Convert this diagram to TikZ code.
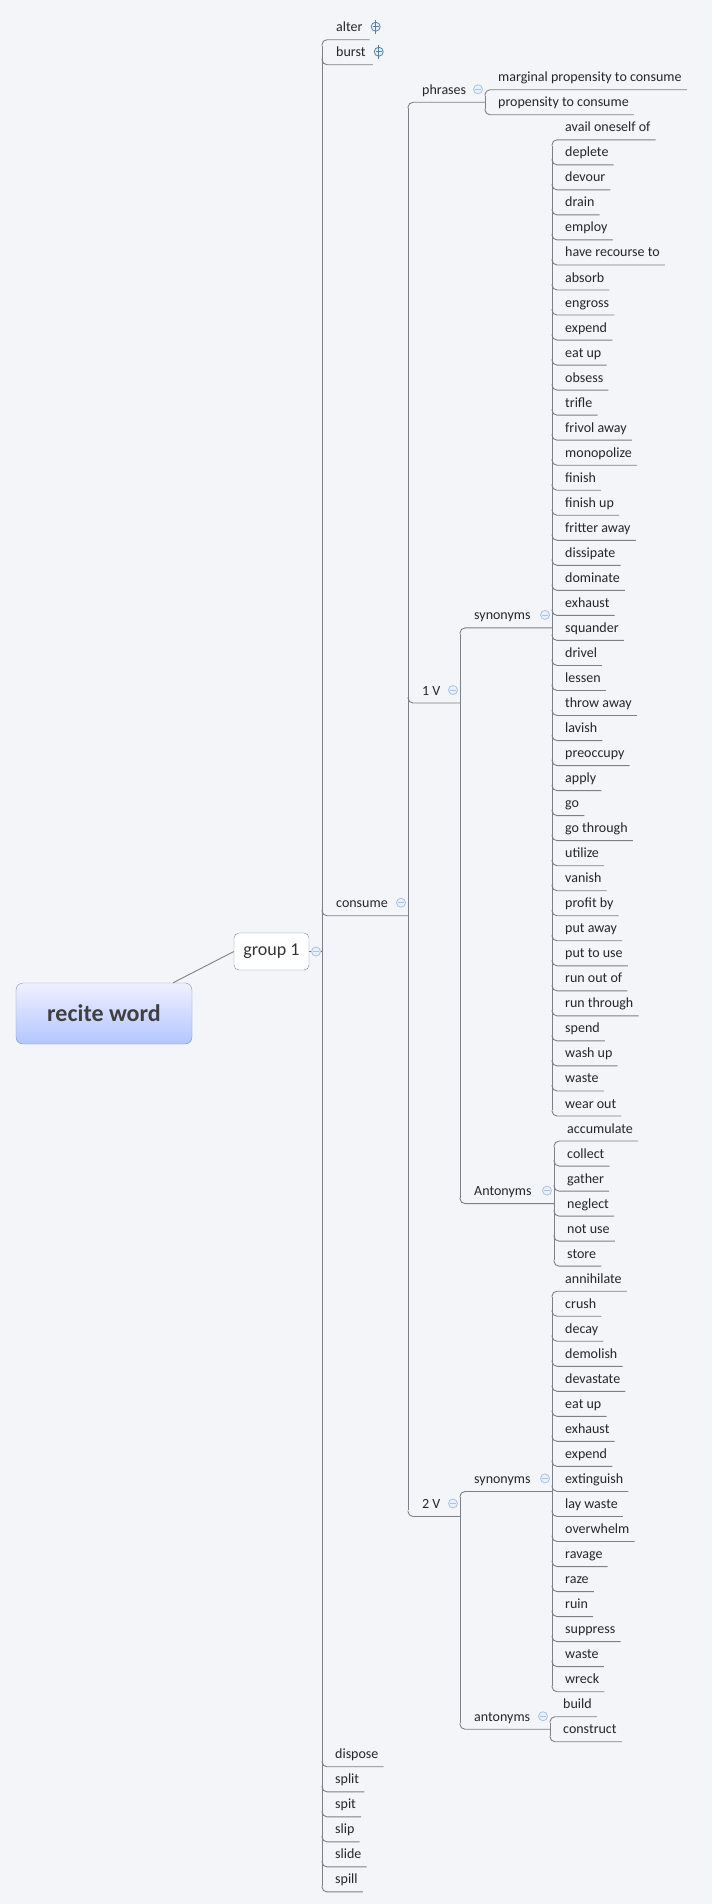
\documentclass[tikz,border=0pt]{standalone}
\usepackage{fontspec}
\setmainfont{Carlito}
\definecolor{bg}{HTML}{F3F5F9}
\definecolor{lnc}{HTML}{7C8088}
\definecolor{icd}{HTML}{A9C4E4}
\definecolor{icf}{HTML}{E9F0F9}
\definecolor{icp}{HTML}{5A7FAE}
\tikzset{
 lbl/.style={anchor=base west,inner sep=0pt,font=\fontsize{14}{16}\selectfont,text=black!85},
 ln/.style={draw=lnc,line width=0.9pt,rounded corners=5pt},
 icon/.style={circle,draw=icd,fill=icf,minimum size=9pt,inner sep=0pt,line width=0.8pt},
 picon/.style={circle,draw=icp,fill=icf,minimum size=9pt,inner sep=0pt,line width=0.8pt},
}
\newcommand\mmleaf[5]{%
 \pgfmathsetmacro\yy{26.7+25.03*(#4)}%
 \pgfmathsetmacro\uu{\yy+13}%
 \pgfmathsetmacro\vv{\uu+(#1)}%
 \node[lbl] (#2) at (#3+13,\yy+5) {#5};
 \coordinate (#2u) at (#3,\uu);
 \draw[ln] (#3,\vv) -- (#2u) -- ([xshift=5pt]#2.east |- #2u);
}
\newcommand\mmpar[6]{%
 \pgfmathsetmacro\yy{26.7+25.03*(#4)}%
 \pgfmathsetmacro\uu{\yy+13}%
 \pgfmathsetmacro\vv{\uu+(#1)}%
 \node[lbl] (#2) at (#3+14,\yy+5) {#5};
 \coordinate (#2u) at (#3,\uu);
 \coordinate (#2c) at (#6,\uu);
 \draw[ln] (#3,\vv) -- (#2u) -- (#2c);
 \node[icon] (#2i) at (#6-7,\yy) {};
 \draw[icd,line width=0.8pt] ([xshift=2pt]#2i.west) -- ([xshift=-2pt]#2i.east);
}
\newcommand\mmplus[5]{%
 \pgfmathsetmacro\yy{26.7+25.03*(#4)}%
 \pgfmathsetmacro\uu{\yy+13}%
 \pgfmathsetmacro\vv{\uu+(#1)}%
 \node[lbl] (#2) at (#3+14,\yy+5) {#5};
 \coordinate (#2u) at (#3,\uu);
 \coordinate (#2m) at (#3,\yy);
 \draw[ln] (#3,\vv) -- (#2u) -- ([xshift=7pt]#2.east |- #2u);
 \node[picon] (#2i) at ([xshift=13pt]#2.east |- #2m) {};
 \draw[icp,line width=0.8pt] ([xshift=2pt]#2i.west) -- ([xshift=-2pt]#2i.east)
   ([yshift=2pt]#2i.north) -- ([yshift=-2pt]#2i.south);
}
\newcommand\mmtrunk[3]{%
 \draw[ln] (#1,{26.7+25.03*(#2)+19}) -- (#1,{26.7+25.03*(#3)+7});
}
\begin{document}
\begin{tikzpicture}[x=1pt,y=-1pt]
\useasboundingbox[fill=bg] (0,0) rectangle (712,1904);
\node[draw=black!45,fill=white,rounded corners=5pt,minimum width=75pt,minimum height=37pt,inner sep=0pt,font=\fontsize{18}{20}\selectfont,text=black!80] (g1) at (271.5,951.5) {group 1};
\node[draw=icp!80,rounded corners=7pt,top color=blue!6!white,bottom color=cyan!25!blue!30!white,minimum width=176pt,minimum height=61pt,inner sep=0pt,font=\fontsize{24}{26}\selectfont\bfseries,text=black!75] (root) at (104,1013.5) {recite word};
\draw[lnc,line width=0.9pt] ([xshift=69pt]root.north) -- (g1.west);
\coordinate (t1) at (322,951.5);
\draw[lnc,line width=0.9pt] (g1.east) -- (t1);
\node[icon] (g1i) at (316,951.5) {};
\draw[icd,line width=0.8pt] ([xshift=2pt]g1i.west) -- ([xshift=-2pt]g1i.east);
\mmtrunk{322}{0}{74}
\mmplus{6}{alter}{322}{0}{alter}
\mmplus{-6}{burst}{322}{1}{burst}
\mmpar{-6}{consume}{322}{35}{consume}{408}
\mmleaf{-6}{dispose}{322}{69}{dispose}
\mmleaf{-6}{split}{322}{70}{split}
\mmleaf{-6}{spit}{322}{71}{spit}
\mmleaf{-6}{slip}{322}{72}{slip}
\mmleaf{-6}{slide}{322}{73}{slide}
\mmleaf{-6}{spill}{322}{74}{spill}
\mmtrunk{408}{2.5}{59}
\mmpar{6}{phrases}{408}{2.5}{phrases}{485}
\mmpar{-6}{v1}{408}{26.5}{1 V}{460}
\mmpar{-6}{v2}{408}{59}{2 V}{460}
\mmtrunk{485}{2}{3}
\mmleaf{6}{ph1}{485}{2}{marginal propensity to consume}
\mmleaf{-6}{ph2}{485}{3}{propensity to consume}
\mmtrunk{460}{23.5}{46.5}
\mmpar{6}{syna}{460}{23.5}{synonyms}{552}
\mmpar{-6}{anta}{460}{46.5}{Antonyms}{554}
\mmtrunk{552}{4}{43}
\foreach \w [count=\i from 0] in {avail oneself of,deplete,devour,drain,employ,have recourse to,absorb,engross,expend,eat up,obsess,trifle,frivol away,monopolize,finish,finish up,fritter away,dissipate,dominate,exhaust,squander,drivel,lessen,throw away,lavish,preoccupy,apply,go,go through,utilize,vanish,profit by,put away,put to use,run out of,run through,spend,wash up,waste,wear out}{
 \pgfmathsetmacro\sg{\i==0 ? 6 : -6}
 \mmleaf{\sg}{sa\i}{552}{4+\i}{\w}
}
\mmtrunk{554}{44}{49}
\foreach \w [count=\i from 0] in {accumulate,collect,gather,neglect,not use,store}{
 \pgfmathsetmacro\sg{\i==0 ? 6 : -6}
 \mmleaf{\sg}{aa\i}{554}{44+\i}{\w}
}
\mmtrunk{460}{58}{67.5}
\mmpar{6}{synb}{460}{58}{synonyms}{552}
\mmpar{-6}{antb}{460}{67.5}{antonyms}{550}
\mmtrunk{552}{50}{66}
\foreach \w [count=\i from 0] in {annihilate,crush,decay,demolish,devastate,eat up,exhaust,expend,extinguish,lay waste,overwhelm,ravage,raze,ruin,suppress,waste,wreck}{
 \pgfmathsetmacro\sg{\i==0 ? 6 : -6}
 \mmleaf{\sg}{sb\i}{552}{50+\i}{\w}
}
\mmtrunk{550}{67}{68}
\mmleaf{6}{ab0}{550}{67}{build}
\mmleaf{-6}{ab1}{550}{68}{construct}
\end{tikzpicture}
\end{document}
